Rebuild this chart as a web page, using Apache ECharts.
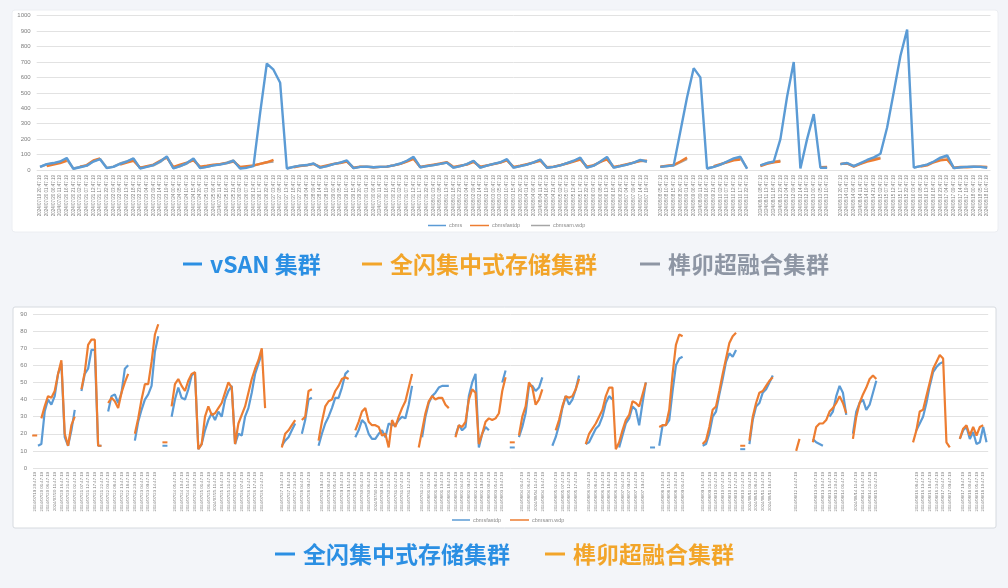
<!DOCTYPE html>
<html><head><meta charset="utf-8">
<script src="https://cdn.jsdelivr.net/npm/echarts/dist/echarts.min.js"></script>
<style>html,body{margin:0;padding:0;background:#f3f5f9;}#c{width:1008px;height:588px;}</style>
</head><body><div id="c"></div>
<script>
// ---------- top chart (cbms / cbmsfastdp / cbmsam.wdp), 143 categories ----------
const topBlue = [
 20, 38, 45, 55, 78, 8, 18, 28, 55, 70,
 12, 20, 40, 55, 75, 10, 20, 32, 55, 88,
 10, 25, 45, 75, 12, 20, 30, 35, 45, 60,
 10, 15, 25, 370, 690, 650, 565, 10, 20, 28,
 32, 42, 15, 25, 38, 48, 62, 12, 20, 22,
 18, 20, 22, 30, 42, 60, 85, 18, 25, 32,
 40, 48, 15, 25, 38, 60, 15, 28, 40, 50,
 70, 15, 25, 35, 50, 68, 15, 20, 30, 45,
 60, 80, 15, 28, 55, 85, 15, 25, 35, 48,
 65, 55, null, 20, 25, 30, 250, 470, 660, 600,
 10, 20, 35, 55, 75, 86, 8, null, 30, 45,
 55, 200, 475, 700, 10, 200, 362, 15, 15, null,
 38, 45, 25, 45, 65, 82, 105, 275, 505, 740,
 910, 15, 25, 35, 55, 80, 95, 12, 18, 20,
 22, 20, 15
];
const topOrange = [
 null, 25, 35, 45, 60, null, 22, 32, 62, 75,
 null, null, 35, 48, 60, 15, 25, 35, 60, 80,
 20, 35, 48, 62, 22, 28, 35, 38, 45, 55,
 20, 25, 30, 40, 50, 65, null, null, 18, 25,
 32, 40, 20, 30, 40, 45, 55, 15, 22, 20,
 18, 20, 22, 30, 40, 55, 72, 20, 28, 35,
 42, 50, 20, 28, 35, 52, 22, 30, 38, 48,
 62, 20, 28, 38, 48, 60, 18, 22, 32, 42,
 55, 68, 22, 32, 52, 69, 20, 28, 38, 48,
 58, 60, null, 22, 28, 32, 55, 80, null, null,
 null, 25, 38, 50, 62, 68, null, null, 25, 40,
 50, 55, null, null, null, null, null, 18, 20, null,
 40, 42, 22, 40, 55, 65, 75, null, null, null,
 null, null, 22, 30, 50, 62, 68, 15, 20, 18,
 20, 22, 20
];
const topGrey = [
 20, 36, 42, 50, 70, 10, 20, 28, 58, 72,
 14, 22, 42, 55, 72, 12, 22, 30, 52, 85,
 12, 25, 42, 70, 14, 20, 30, 38, 48, 62,
 12, 18, 28, 40, 50, 55, null, 10, 20, 28,
 30, 40, 15, 25, 38, 48, 58, 12, 20, 22,
 18, 20, 22, 30, 40, 58, 80, 18, 25, 32,
 40, 48, 15, 25, 38, 58, 15, 28, 40, 48,
 65, 15, 25, 35, 50, 65, 15, 20, 30, 45,
 58, 75, 15, 28, 52, 80, 15, 25, 35, 48,
 62, 55, null, 20, 25, 30, 50, 72, null, null,
 10, 20, 35, 52, 70, 80, 10, null, 28, 45,
 52, 60, null, null, null, null, null, 15, 18, null,
 38, 44, 25, 42, 60, 75, 80, null, null, null,
 null, 15, 25, 35, 52, 75, 90, 12, 18, 20,
 22, 20, 18
];
const topTicks = [0, 100, 200, 300, 400, 500, 600, 700, 800, 900, 1000];

// ---------- bottom chart (cbmsfastdp / cbmsam.wdp), 286 categories ----------
const botBlue = [
 null, 13, 14, 33, 40, 37, 42, 55, 61, 18,
 13, 22, 34, null, 45, 55, 58, 69, 69, 13,
 13, null, 33, 42, 43, 38, 44, 58, 60, null,
 16, 27, 34, 40, 43, 48, 68, 77, null, 13,
 null, 30, 40, 47, 41, 40, 46, 54, 56, 11,
 14, 22, 28, 32, 28, 33, 30, 40, 45, 48,
 14, 20, 19, 30, 35, 44, 55, 61, 67, null,
 null, null, null, null, 13, 16, 18, 22, 26, null,
 20, 28, 40, 41, null, 13, 20, 26, 30, 35,
 41, 41, 47, 55, 57, null, 18, 22, 28, 26,
 20, 17, 17, 20, 22, 18, 26, 25, 25, 28,
 30, 29, 37, 48, null, null, 18, 30, 38, 42,
 44, 47, 48, 48, 48, null, 19, 25, 22, 24,
 42, 50, 55, 12, 20, 24, 22, null, null, null,
 50, 57, null, 12, null, 18, 24, 32, 48, 48,
 45, 47, 53, null, null, 13, 18, 25, 35, 42,
 37, 40, 46, 54, null, 14, 15, 19, 23, 25,
 30, 38, 42, 40, null, 12, 19, 26, 29, 36,
 34, 25, 38, 50, null, 12, null, 13, 25, 25,
 28, 45, 60, 64, 65, null, null, null, null, null,
 13, 14, 20, 30, 33, 43, 52, 62, 67, 65,
 69, null, 11, null, 14, 28, 36, 38, 44, 46,
 50, 54, null, null, null, null, null, null, null, null,
 null, null, null, 17, 15, 14, 13, null, 30, 33,
 42, 48, 44, 31, null, 20, 33, 38, 40, 34,
 37, 44, 51, null, null, null, null, null, null, null,
 null, null, null, null, 22, 26, 30, 38, 48, 56,
 59, 61, 62, null, null, null, null, 17, 22, 24,
 17, 21, 14, 15, 24, 15
];
const botOrange = [
 19, null, 29, 36, 42, 41, 45, 55, 63, 20,
 13, 25, 30, null, 46, 56, 72, 75, 75, 13,
 13, null, 38, 41, 39, 35, 44, 50, 55, null,
 20, 29, 40, 49, 49, 62, 78, 84, null, 15,
 null, 36, 49, 52, 48, 45, 51, 55, 56, 11,
 14, 30, 36, 31, 32, 35, 38, 44, 50, 47,
 14, 26, 31, 36, 44, 52, 58, 63, 70, 35,
 null, null, null, null, 12, 20, 22, 25, 28, null,
 28, 30, 45, 46, null, 16, 27, 36, 39, 40,
 45, 48, 52, 53, 52, null, 22, 27, 33, 35,
 27, 25, 25, 24, 19, 20, 12, 28, 24, 30,
 35, 39, 47, 55, null, 12, 22, 32, 39, 42,
 40, 41, 41, 37, 35, null, 18, 25, 24, 27,
 40, 46, 44, 14, 20, 27, 29, 28, 29, 32,
 45, 53, null, 15, null, 19, 30, 36, 50, 47,
 37, 40, 46, null, null, null, 22, 28, 36, 42,
 41, 42, 46, 52, null, 14, 20, 23, 26, 30,
 34, 42, 47, 47, 11, 15, 22, 28, 31, 39,
 38, 36, 43, 50, null, null, null, 24, 25, 25,
 34, 55, 72, 78, 77, null, null, null, null, null,
 14, 16, 24, 34, 36, 45, 55, 64, 73, 77,
 79, null, 13, null, 16, 30, 38, 44, 45, 48,
 51, 53, null, null, null, null, null, null, 10, 17,
 null, null, null, 15, 24, 26, 26, 28, 33, 35,
 38, 42, 38, 32, null, 17, 30, 38, 43, 47,
 52, 54, 52, null, null, null, null, null, null, null,
 null, null, null, 15, 22, 33, 34, 42, 50, 58,
 62, 66, 64, 15, 12, null, null, 17, 23, 25,
 19, 24, 19, 24, 25, null
];
const botTicks = [0, 10, 20, 30, 40, 50, 60, 70, 80, 90];

// category labels: time stamps (unreadable in the reference, reproduced as a regular sequence)
function makeLabels(n, startIso, stepMin) {
  const start = Date.parse(startIso + 'Z');
  const p = v => String(v).padStart(2, '0');
  const out = [];
  for (let i = 0; i < n; i++) {
    const d = new Date(start + i * stepMin * 60000);
    out.push(d.getUTCFullYear() + '/' + p(d.getUTCMonth() + 1) + '/' + p(d.getUTCDate()) + ' ' +
      p(d.getUTCHours()) + ':' + p(d.getUTCMinutes()) + ':19');
  }
  return out;
}
const topCategories = makeLabels(topBlue.length, '2024-07-19T20:47:00', 300);
const botCategories = makeLabels(botBlue.length, '2024-07-19T20:47:00', 150);

// isolated single values get a small dash marker so they stay visible
function withDots(arr) {
  return arr.map((v, i) => {
    if (v == null) return null;
    const prev = i > 0 ? arr[i - 1] : null;
    const next = i < arr.length - 1 ? arr[i + 1] : null;
    if (prev == null && next == null) return { value: v, symbol: 'rect', symbolSize: [5, 2] };
    return v;
  });
}

const BLUE = '#5b9bd5', ORANGE = '#ed7d31', GREY = '#a5a5a5';
function lineSeries(name, data, color, xi, z, w) {
  return {
    name: name, type: 'line', xAxisIndex: xi, yAxisIndex: xi,
    data: withDots(data), symbol: 'none', showSymbol: true, showAllSymbol: true,
    connectNulls: false, silent: true, z: z,
    lineStyle: { color: color, width: w }, itemStyle: { color: color }
  };
}

const chart = echarts.init(document.getElementById('c'), null, { renderer: 'canvas' });
const axisLabelStyle = { color: '#7f7f7f', fontSize: 6, fontFamily: 'Liberation Sans, Arial, sans-serif' };

chart.setOption({
  backgroundColor: '#f3f5f9',
  animation: false,
  grid: [
    { left: 36.7, right: 17.5, top: 15.7, bottom: 418 },
    { left: 33, right: 19.8, top: 314, bottom: 120 }
  ],
  xAxis: [
    {
      type: 'category', gridIndex: 0, data: topCategories, boundaryGap: true,
      axisLine: { show: false }, axisTick: { show: false },
      axisLabel: {
        interval: 0, rotate: 90, fontSize: 4.5, color: '#808080', margin: 5,
        formatter: (v, i) => (topBlue[i] == null && topOrange[i] == null && topGrey[i] == null) ? '' : v
      }
    },
    {
      type: 'category', gridIndex: 1, data: botCategories, boundaryGap: true,
      axisLine: { show: false }, axisTick: { show: false },
      axisLabel: {
        interval: 1, rotate: 90, fontSize: 4.3, color: '#808080', margin: 4,
        formatter: (v, i) => (botBlue[i] == null && botOrange[i] == null) ? '' : v
      }
    }
  ],
  yAxis: [
    {
      type: 'value', gridIndex: 0, min: topTicks[0], max: topTicks[topTicks.length - 1], interval: 100,
      axisLine: { show: false }, axisTick: { show: false },
      axisLabel: Object.assign({ margin: 6, formatter: v => String(v) }, axisLabelStyle),
      splitLine: { lineStyle: { color: '#e2e2e2', width: 1 } }
    },
    {
      type: 'value', gridIndex: 1, min: botTicks[0], max: botTicks[botTicks.length - 1], interval: 10,
      axisLine: { show: false }, axisTick: { show: false },
      axisLabel: Object.assign({ margin: 6, formatter: v => String(v) }, axisLabelStyle),
      splitLine: { lineStyle: { color: '#e2e2e2', width: 1 } }
    }
  ],
  series: [
    lineSeries('cbmsam.wdp', topGrey, GREY, 0, 3, 2.4),
    lineSeries('cbmsfastdp', topOrange, ORANGE, 0, 4, 2.4),
    lineSeries('cbms', topBlue, BLUE, 0, 5, 2.4),
    lineSeries('cbmsfastdp ', botBlue, BLUE, 1, 3, 2.2),
    lineSeries('cbmsam.wdp ', botOrange, ORANGE, 1, 4, 2.2)
  ],
  graphic: [
    { type: 'rect', z: -10, silent: true, shape: { x: 12, y: 10, width: 986, height: 222, r: 3 },
      style: { fill: '#ffffff', stroke: '#eceef2', lineWidth: 1 } },
    { type: 'rect', z: -10, silent: true, shape: { x: 13, y: 307, width: 983, height: 221, r: 2 },
      style: { fill: '#ffffff', stroke: '#d6dadf', lineWidth: 1 } },

    // small in-chart legends
    { type: 'line', silent: true, shape: { x1: 428, y1: 225.5, x2: 446, y2: 225.5 }, style: { stroke: BLUE, lineWidth: 1.5 } },
    { type: 'text', silent: true, x: 449, y: 225.5, style: { text: 'cbms', fontSize: 5.5, fill: '#8c8c8c', verticalAlign: 'middle' } },
    { type: 'line', silent: true, shape: { x1: 470, y1: 225.5, x2: 489, y2: 225.5 }, style: { stroke: ORANGE, lineWidth: 1.5 } },
    { type: 'text', silent: true, x: 492, y: 225.5, style: { text: 'cbmsfastdp', fontSize: 5.5, fill: '#8c8c8c', verticalAlign: 'middle' } },
    { type: 'line', silent: true, shape: { x1: 531, y1: 225.5, x2: 550, y2: 225.5 }, style: { stroke: GREY, lineWidth: 1.5 } },
    { type: 'text', silent: true, x: 553, y: 225.5, style: { text: 'cbmsam.wdp', fontSize: 5.5, fill: '#8c8c8c', verticalAlign: 'middle' } },

    { type: 'line', silent: true, shape: { x1: 452, y1: 520, x2: 470, y2: 520 }, style: { stroke: BLUE, lineWidth: 1.5 } },
    { type: 'text', silent: true, x: 473, y: 520, style: { text: 'cbmsfastdp', fontSize: 5.5, fill: '#8c8c8c', verticalAlign: 'middle' } },
    { type: 'line', silent: true, shape: { x1: 510, y1: 520, x2: 529, y2: 520 }, style: { stroke: ORANGE, lineWidth: 1.5 } },
    { type: 'text', silent: true, x: 532, y: 520, style: { text: 'cbmsam.wdp', fontSize: 5.5, fill: '#8c8c8c', verticalAlign: 'middle' } },

    // large captions under each panel
    { type: 'line', silent: true, shape: { x1: 183, y1: 264, x2: 202, y2: 264 }, style: { stroke: '#2b8fe3', lineWidth: 3 } },
    { type: 'text', silent: true, x: 210, y: 264, style: { text: 'vSAN 集群', fontSize: 23, fontWeight: 'bold', fontFamily: '"Noto Sans CJK SC", sans-serif', fill: '#2b8fe3', verticalAlign: 'middle' } },
    { type: 'line', silent: true, shape: { x1: 362, y1: 264, x2: 382, y2: 264 }, style: { stroke: '#f2a52a', lineWidth: 3 } },
    { type: 'text', silent: true, x: 390, y: 264, style: { text: '全闪集中式存储集群', fontSize: 23, fontWeight: 'bold', fontFamily: '"Noto Sans CJK SC", sans-serif', fill: '#f2a52a', verticalAlign: 'middle' } },
    { type: 'line', silent: true, shape: { x1: 640, y1: 264, x2: 660, y2: 264 }, style: { stroke: '#8e96a4', lineWidth: 3 } },
    { type: 'text', silent: true, x: 668, y: 264, style: { text: '榫卯超融合集群', fontSize: 23, fontWeight: 'bold', fontFamily: '"Noto Sans CJK SC", sans-serif', fill: '#8e96a4', verticalAlign: 'middle' } },

    { type: 'line', silent: true, shape: { x1: 275, y1: 554, x2: 295, y2: 554 }, style: { stroke: '#2b8fe3', lineWidth: 3 } },
    { type: 'text', silent: true, x: 303, y: 554, style: { text: '全闪集中式存储集群', fontSize: 23, fontWeight: 'bold', fontFamily: '"Noto Sans CJK SC", sans-serif', fill: '#2b8fe3', verticalAlign: 'middle' } },
    { type: 'line', silent: true, shape: { x1: 545, y1: 554, x2: 565, y2: 554 }, style: { stroke: '#f2a52a', lineWidth: 3 } },
    { type: 'text', silent: true, x: 573, y: 554, style: { text: '榫卯超融合集群', fontSize: 23, fontWeight: 'bold', fontFamily: '"Noto Sans CJK SC", sans-serif', fill: '#f2a52a', verticalAlign: 'middle' } }
  ]
});
</script>
</body></html>
